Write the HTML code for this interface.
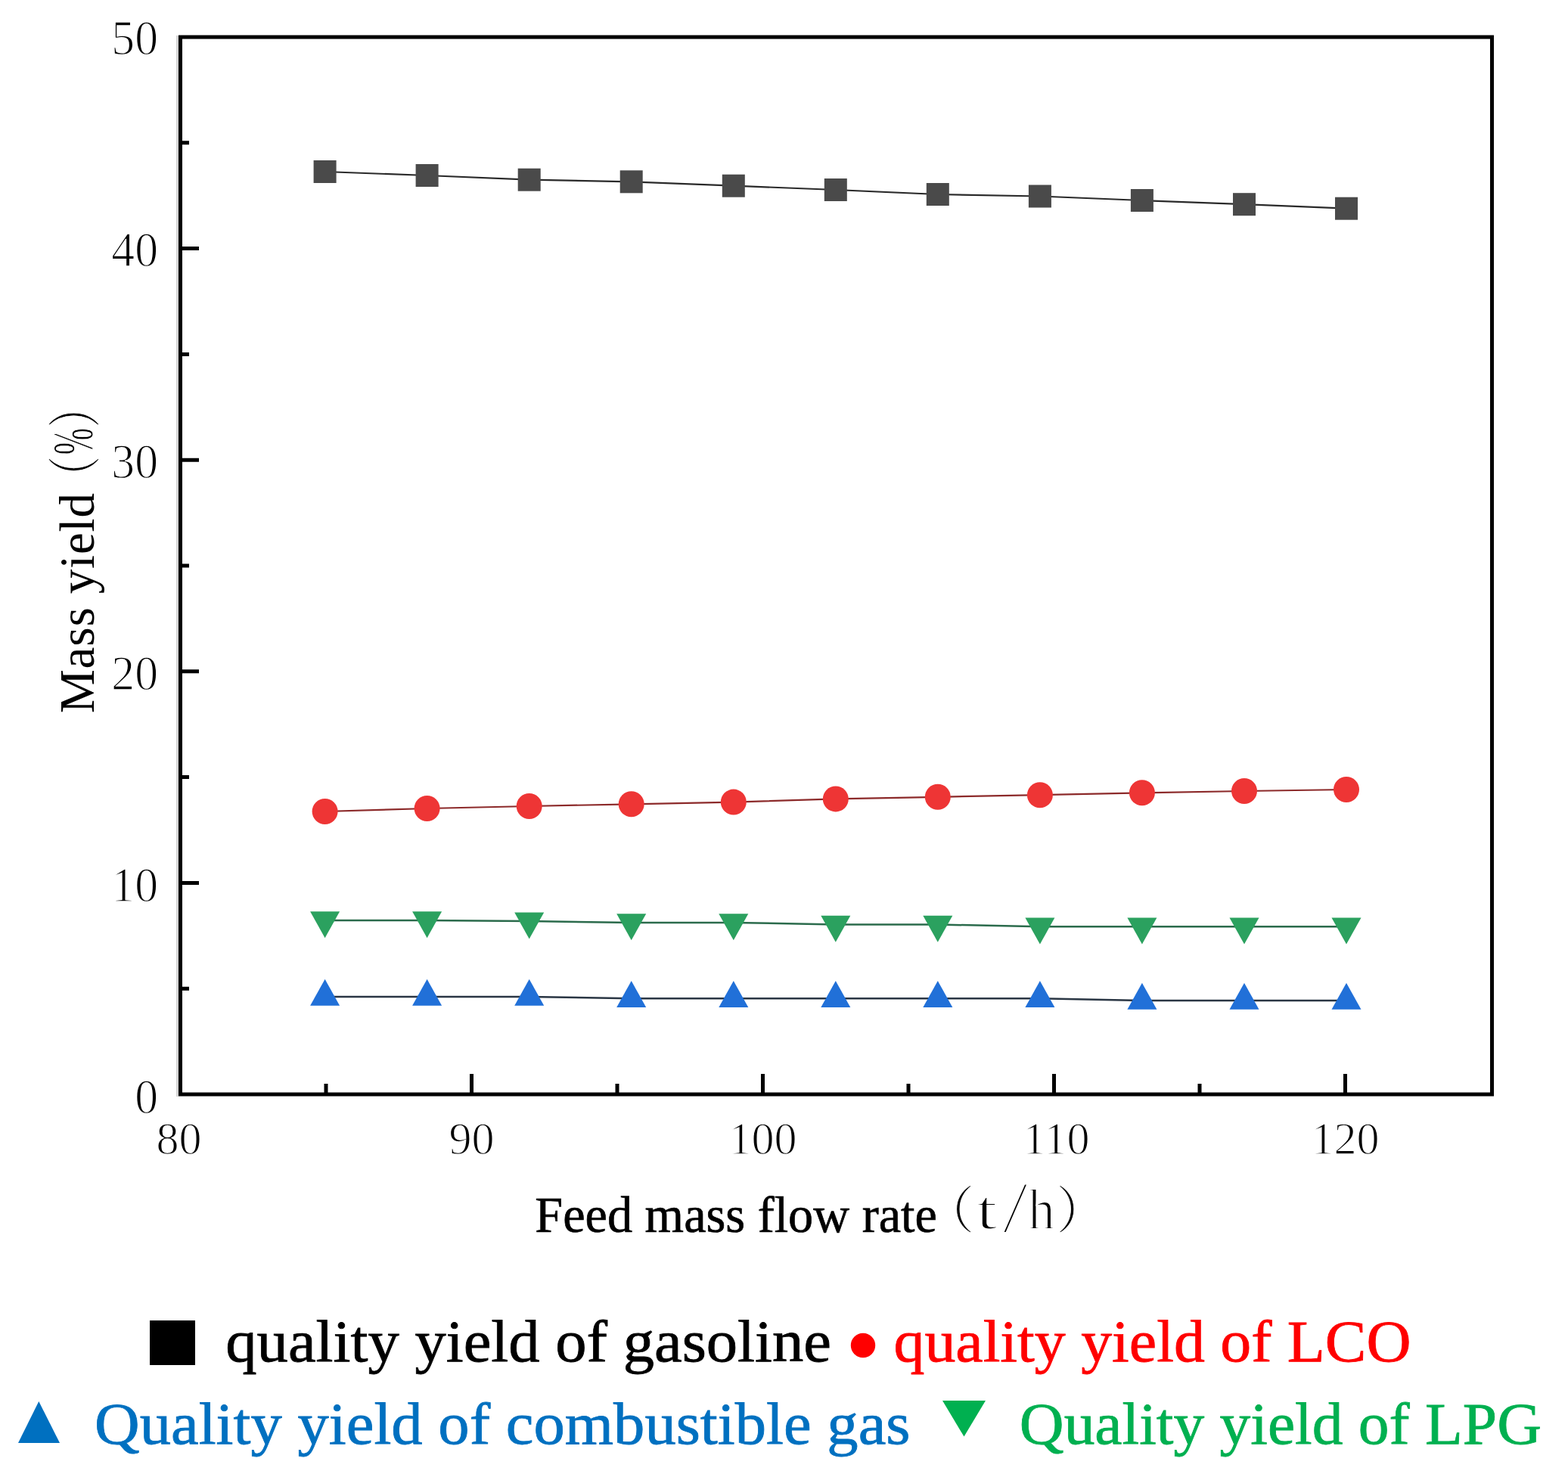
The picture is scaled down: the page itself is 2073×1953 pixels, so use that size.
<!DOCTYPE html>
<html><head><meta charset="utf-8"><title>Mass yield vs feed mass flow rate</title>
<style>
html,body{margin:0;padding:0;background:#fff;}
body{width:2073px;height:1953px;overflow:hidden;}
svg{display:block;}
text{font-family:"Liberation Serif",serif;}
.tl text{font-size:65px;fill:#000;stroke:#fff;stroke-width:1.4px;}
.at{fill:#000;}
.bt{stroke:#000;stroke-width:0.7px;}
.cj{font-family:"Liberation Serif","Noto Serif CJK SC",serif;fill:#000;}
.lg{font-size:79px;stroke-width:0.8px;}
.thin{stroke:#fff;stroke-width:2px;}
.thin2{stroke:#fff;stroke-width:3px;}
.cj{stroke:#fff;stroke-width:0.9px;}
.thin3{stroke:#fff;stroke-width:1px;}
</style></head>
<body><svg width="2073" height="1953" viewBox="0 0 2073 1953">
<rect width="2073" height="1953" fill="#fff"/>
<rect x="233" y="47" width="3" height="1403" fill="#d4d4d4"/><rect x="238.5" y="49" width="1734" height="1398" fill="none" stroke="#000" stroke-width="5"/><path d="M238.5 1167.4H263M238.5 887.8H263M238.5 608.2H263M238.5 328.6H263M238.5 1307.2H250M238.5 1027.6H250M238.5 748H250M238.5 468.4H250M238.5 188.8H250M623.5 1447V1420M1008.5 1447V1420M1393.5 1447V1420M1778.5 1447V1420M431 1447V1433M816 1447V1433M1201 1447V1433M1586 1447V1433" stroke="#000" stroke-width="5" fill="none"/><g class="tl"><text transform="translate(209 1471.7) scale(0.95 1)" text-anchor="end">0</text><text transform="translate(209 1191.7) scale(0.95 1)" text-anchor="end">10</text><text transform="translate(209 911.7) scale(0.95 1)" text-anchor="end">20</text><text transform="translate(209 631.7) scale(0.95 1)" text-anchor="end">30</text><text transform="translate(209 351.7) scale(0.95 1)" text-anchor="end">40</text><text transform="translate(209 71.7) scale(0.95 1)" text-anchor="end">50</text><text transform="translate(236.5 1526.3) scale(0.97 1)" text-anchor="middle" style="font-size:62px">80</text><text transform="translate(623.5 1526.3) scale(0.97 1)" text-anchor="middle" style="font-size:62px">90</text><text transform="translate(1008.5 1526.3) scale(0.97 1)" text-anchor="middle" style="font-size:62px">100</text><text transform="translate(1396.5 1526.3) scale(0.97 1)" text-anchor="middle" style="font-size:62px">110</text><text transform="translate(1778.5 1526.3) scale(0.97 1)" text-anchor="middle" style="font-size:62px">120</text></g><polyline points="429.6,227 564.6,232 699.7,237.7 834.7,240.3 969.8,245.7 1104.8,251 1239.8,257 1374.9,259.5 1509.9,265 1645,270.2 1780,275.7" fill="none" stroke="#2a2a2a" stroke-width="2.2"/><polyline points="429.6,1073 564.6,1069 699.7,1066 834.7,1063.3 969.8,1060.6 1104.8,1056.4 1239.8,1053.8 1374.9,1051.2 1509.9,1048.3 1645,1046 1780,1044" fill="none" stroke="#8c2a2a" stroke-width="2.2"/><polyline points="429.6,1216.9 564.6,1216.9 699.7,1218.1 834.7,1219.9 969.8,1219.9 1104.8,1222.5 1239.8,1222.5 1374.9,1225.2 1509.9,1225.2 1645,1225.2 1780,1225.2" fill="none" stroke="#2b6b4c" stroke-width="2.5"/><polyline points="429.6,1318 564.6,1318 699.7,1318 834.7,1320.3 969.8,1320.3 1104.8,1320.3 1239.8,1320.3 1374.9,1320.3 1509.9,1323 1645,1323 1780,1323" fill="none" stroke="#2a3644" stroke-width="2.5"/><rect x="414.6" y="212" width="30" height="30" fill="#4a4a4a"/><rect x="549.6" y="217" width="30" height="30" fill="#4a4a4a"/><rect x="684.7" y="222.7" width="30" height="30" fill="#4a4a4a"/><rect x="819.7" y="225.3" width="30" height="30" fill="#4a4a4a"/><rect x="954.8" y="230.7" width="30" height="30" fill="#4a4a4a"/><rect x="1089.8" y="236" width="30" height="30" fill="#4a4a4a"/><rect x="1224.8" y="242" width="30" height="30" fill="#4a4a4a"/><rect x="1359.9" y="244.5" width="30" height="30" fill="#4a4a4a"/><rect x="1494.9" y="250" width="30" height="30" fill="#4a4a4a"/><rect x="1630" y="255.2" width="30" height="30" fill="#4a4a4a"/><rect x="1765" y="260.7" width="30" height="30" fill="#4a4a4a"/><circle cx="429.6" cy="1073" r="17" fill="#ee3535"/><circle cx="564.6" cy="1069" r="17" fill="#ee3535"/><circle cx="699.7" cy="1066" r="17" fill="#ee3535"/><circle cx="834.7" cy="1063.3" r="17" fill="#ee3535"/><circle cx="969.8" cy="1060.6" r="17" fill="#ee3535"/><circle cx="1104.8" cy="1056.4" r="17" fill="#ee3535"/><circle cx="1239.8" cy="1053.8" r="17" fill="#ee3535"/><circle cx="1374.9" cy="1051.2" r="17" fill="#ee3535"/><circle cx="1509.9" cy="1048.3" r="17" fill="#ee3535"/><circle cx="1645" cy="1046" r="17" fill="#ee3535"/><circle cx="1780" cy="1044" r="17" fill="#ee3535"/><path d="M410.1 1205.2H449.1L429.6 1240.2Z" fill="#2ba15f"/><path d="M545.1 1205.2H584.1L564.6 1240.2Z" fill="#2ba15f"/><path d="M680.2 1206.4H719.2L699.7 1241.4Z" fill="#2ba15f"/><path d="M815.2 1208.2H854.2L834.7 1243.2Z" fill="#2ba15f"/><path d="M950.3 1208.2H989.3L969.8 1243.2Z" fill="#2ba15f"/><path d="M1085.3 1210.8H1124.3L1104.8 1245.8Z" fill="#2ba15f"/><path d="M1220.3 1210.8H1259.3L1239.8 1245.8Z" fill="#2ba15f"/><path d="M1355.4 1213.5H1394.4L1374.9 1248.5Z" fill="#2ba15f"/><path d="M1490.4 1213.5H1529.4L1509.9 1248.5Z" fill="#2ba15f"/><path d="M1625.5 1213.5H1664.5L1645 1248.5Z" fill="#2ba15f"/><path d="M1760.5 1213.5H1799.5L1780 1248.5Z" fill="#2ba15f"/><path d="M410.1 1329.7H449.1L429.6 1294.7Z" fill="#2170d8"/><path d="M545.1 1329.7H584.1L564.6 1294.7Z" fill="#2170d8"/><path d="M680.2 1329.7H719.2L699.7 1294.7Z" fill="#2170d8"/><path d="M815.2 1332H854.2L834.7 1297Z" fill="#2170d8"/><path d="M950.3 1332H989.3L969.8 1297Z" fill="#2170d8"/><path d="M1085.3 1332H1124.3L1104.8 1297Z" fill="#2170d8"/><path d="M1220.3 1332H1259.3L1239.8 1297Z" fill="#2170d8"/><path d="M1355.4 1332H1394.4L1374.9 1297Z" fill="#2170d8"/><path d="M1490.4 1334.7H1529.4L1509.9 1299.7Z" fill="#2170d8"/><path d="M1625.5 1334.7H1664.5L1645 1299.7Z" fill="#2170d8"/><path d="M1760.5 1334.7H1799.5L1780 1299.7Z" fill="#2170d8"/><text class="at" transform="translate(123.5 943) rotate(-90)" font-size="65" textLength="291" lengthAdjust="spacing">Mass yield</text><text class="cj" transform="translate(124 658.8) rotate(-90) scale(0.78 1)" font-size="71.4">（</text><text class="at thin3" transform="translate(122 601.3) rotate(-90) scale(0.55 1)" font-size="77">%</text><text class="cj" transform="translate(124 565.4) rotate(-90) scale(0.78 1)" font-size="71.4">）</text><text class="at bt" x="707.3" y="1629" font-size="68" textLength="531.6" lengthAdjust="spacingAndGlyphs">Feed mass flow rate</text><text class="cj" x="1221" y="1624" font-size="67">（</text><text class="at thin" transform="translate(1290.3 1624.5) scale(1.4 1)" font-size="73">t</text><text class="at thin2" transform="translate(1325 1629) scale(1.27 1)" font-size="98">/</text><text class="at thin" transform="translate(1359 1624.6) scale(0.93 1)" font-size="77">h</text><text class="cj" x="1396.4" y="1624" font-size="67">）</text><rect x="198" y="1746" width="60" height="59" fill="#000"/><text class="lg" x="298.3" y="1800" fill="#000" stroke="#000" textLength="800.7" lengthAdjust="spacingAndGlyphs">quality yield of gasoline</text><circle cx="1141" cy="1779" r="16.2" fill="#ff0000"/><text class="lg" x="1181.5" y="1800" fill="#ff0000" stroke="#ff0000" textLength="684" lengthAdjust="spacingAndGlyphs">quality yield of LCO</text><path d="M51.3 1853L79 1908H24Z" fill="#0070c0"/><text class="lg" x="125" y="1908.5" fill="#0070c0" stroke="#0070c0" textLength="1078.5" lengthAdjust="spacingAndGlyphs">Quality yield of combustible gas</text><path d="M1246 1852H1303L1274.5 1899.6Z" fill="#00b050"/><text class="lg" x="1347.8" y="1908.5" fill="#00b050" stroke="#00b050" textLength="690.2" lengthAdjust="spacingAndGlyphs">Quality yield of LPG</text>
</svg></body></html>
